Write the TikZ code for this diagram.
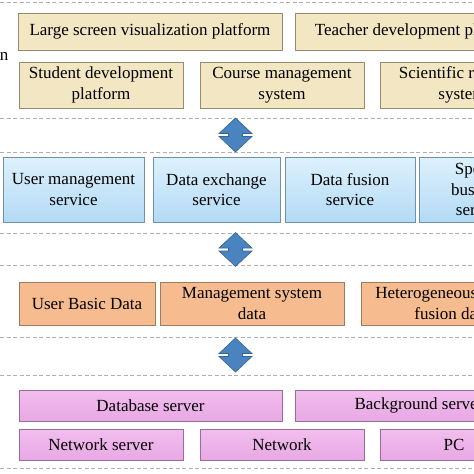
\documentclass[tikz,border=0pt]{standalone}
\usepackage{fontspec}
\setmainfont{Liberation Serif}
\usetikzlibrary{shadows}
\definecolor{tanfill}{RGB}{243,230,194}
\definecolor{tanline}{RGB}{150,138,112}
\definecolor{bluetop}{RGB}{222,241,253}
\definecolor{bluebot}{RGB}{178,218,245}
\definecolor{blueline}{RGB}{115,145,165}
\definecolor{orfill}{RGB}{246,188,143}
\definecolor{orline}{RGB}{160,122,92}
\definecolor{pktop}{RGB}{242,190,238}
\definecolor{pkbot}{RGB}{232,168,228}
\definecolor{pkline}{RGB}{150,110,150}
\definecolor{arrfill}{RGB}{74,132,192}
\definecolor{arrline}{RGB}{52,100,150}
\definecolor{dashgray}{RGB}{175,175,175}
\tikzset{
  basebox/.style={draw, line width=0.9pt, inner sep=0pt, align=center,
    font=\fontsize{17}{20.5}\selectfont,
    drop shadow={shadow xshift=1.2pt, shadow yshift=-1.2pt, fill=black, opacity=0.22}},
  tanbox/.style={basebox, fill=tanfill, draw=tanline},
  bluebox/.style={basebox, top color=bluetop, bottom color=bluebot, draw=blueline},
  orbox/.style={basebox, fill=orfill, draw=orline},
  pkbox/.style={basebox, top color=pktop, bottom color=pkbot, draw=pkline},
  sep/.style={draw=dashgray, line width=0.9pt, dash pattern=on 4pt off 2.5pt},
  layerarrow/.style={fill=arrfill, draw=arrline, line width=0.6pt, line join=miter},
}
\begin{document}
\begin{tikzpicture}[x=1pt,y=-1pt]
\useasboundingbox (0,0) rectangle (474,474);
\begin{scope}
\clip (0,0) rectangle (474,474);
\fill[white] (0,0) rectangle (474,474);
% separators
\foreach \yy in {2,118,152,233,265,337,375,468}
  \draw[sep] (0,\yy) -- (474,\yy);
% label fragment
\node[anchor=base east, inner sep=0pt, font=\fontsize{17}{20.5}\selectfont] (applbl) at (8.5,60) {n};
% layer 1
\node[tanbox, minimum width=264pt, minimum height=37pt] (lsv) at (150,31.5) {Large screen visualization platform};
\node[tanbox, minimum width=248pt, minimum height=37pt] (tdp) at (419,31.5) {Teacher development platform};
\node[tanbox, minimum width=164pt, minimum height=46pt] (sdp) at (101,85) {Student development\\platform};
\node[tanbox, minimum width=164pt, minimum height=46pt] (cms) at (282,85) {Course management\\system};
\node[tanbox, minimum width=164pt, minimum height=46pt] (srs) at (462,85) {Scientific research\\system};
% layer 2
\node[bluebox, minimum width=141pt, minimum height=65pt] (ums) at (73.5,189.5) {User management\\service};
\node[bluebox, minimum width=127pt, minimum height=65pt] (des) at (216.5,189.5) {Data exchange\\service};
\node[bluebox, minimum width=130pt, minimum height=65pt] (dfs) at (350,189.5) {Data fusion\\service};
\node[bluebox, minimum width=122pt, minimum height=65pt] (sbs) at (480,189.5) {Special\\business\\service};
% layer 3
\node[orbox, minimum width=136pt, minimum height=43pt] (ubd) at (87,303.5) {User Basic Data};
\node[orbox, minimum width=184pt, minimum height=43pt] (msd) at (252,303.5) {Management system\\data};
\node[orbox, minimum width=182pt, minimum height=43pt] (hsf) at (452,303.5) {Heterogeneous system\\fusion data};
% layer 4
\node[pkbox, minimum width=263pt, minimum height=31pt] (dbs) at (150.5,405.5) {Database server};
\node[pkbox, minimum width=248pt, minimum height=31pt] (bgs) at (419,405.5) {Background server};
\node[pkbox, minimum width=164pt, minimum height=31pt] (nws) at (101,444.5) {Network server};
\node[pkbox, minimum width=164pt, minimum height=31pt] (nw) at (282,444.5) {Network};
\node[pkbox, minimum width=148pt, minimum height=31pt] (pc) at (454,444.5) {PC};
% arrows between layers
\foreach \cy/\nm in {135/arrA, 249.5/arrB, 355/arrC}{
  \coordinate (\nm) at (235.5,\cy);
  \draw[layerarrow] ([shift={(0,-17)}]\nm) -- ([shift={(16.5,-1.5)}]\nm) -- ([shift={(7,-1.5)}]\nm)
    -- ([shift={(7,1.5)}]\nm) -- ([shift={(16.5,1.5)}]\nm) -- ([shift={(0,17)}]\nm)
    -- ([shift={(-16.5,1.5)}]\nm) -- ([shift={(-7,1.5)}]\nm) -- ([shift={(-7,-1.5)}]\nm)
    -- ([shift={(-16.5,-1.5)}]\nm) -- cycle;
}
\end{scope}
\end{tikzpicture}
\end{document}
